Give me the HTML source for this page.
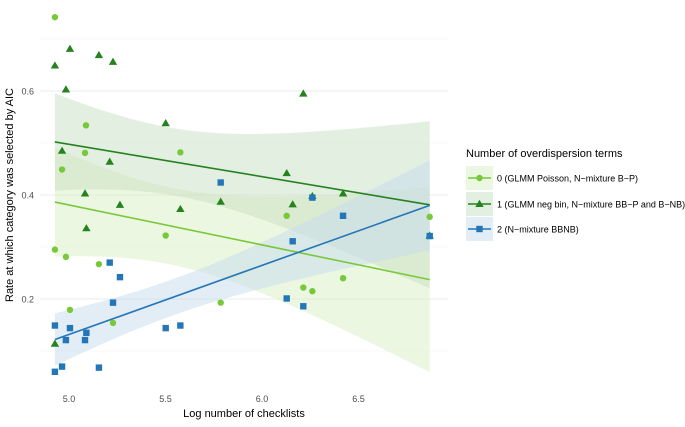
<!DOCTYPE html>
<html><head><meta charset="utf-8"><style>
body{margin:0;background:#fff;font-family:"Liberation Sans",sans-serif}
svg text{font-family:"Liberation Sans",sans-serif}
</style></head><body>
<svg id="c" width="685" height="422" viewBox="0 0 685 422" xmlns="http://www.w3.org/2000/svg"></svg>
<script>
const xTicks=[5.0,5.5,6.0,6.5];
const yTicks=[0.2,0.4,0.6];
const yMinor=[0.1,0.3,0.5,0.7];
const seriesNames=["0 (GLMM Poisson, N\u2212mixture B\u2212P)","1 (GLMM neg bin, N\u2212mixture BB\u2212P and B\u2212NB)","2 (N\u2212mixture BBNB)"];
const s0x=[4.927,5.088,5.083,5.577,4.964,5.501,4.927,4.984,5.155,5.005,5.228,5.786,6.128,6.214,6.261,6.420,6.869];
const s0y=[0.742,0.534,0.481,0.482,0.449,0.322,0.295,0.281,0.267,0.179,0.154,0.193,0.360,0.222,0.215,0.240,0.358];
const s1x=[5.005,4.927,5.155,5.228,4.984,5.501,4.964,5.211,5.083,5.264,5.577,5.786,5.090,4.927,6.214,6.128,6.159,6.420,6.261,6.869];
const s1y=[0.681,0.649,0.669,0.656,0.603,0.538,0.485,0.464,0.403,0.381,0.373,0.387,0.336,0.114,0.595,0.442,0.382,0.403,0.398,0.322];
const s2x=[5.786,5.211,5.264,5.228,4.927,5.005,5.090,4.984,5.083,5.501,5.577,4.927,4.964,5.155,6.261,6.420,6.159,6.128,6.214,6.869];
const s2y=[0.424,0.270,0.242,0.193,0.149,0.144,0.135,0.121,0.121,0.144,0.149,0.060,0.070,0.068,0.395,0.360,0.311,0.201,0.186,0.321];
const colors=["#77c93a","#24821f","#2376b7"];
const fills=["#d9efc4","#c7dfc3","#c5dbee"];
const X=v=>69+(v-5)*193;
const Y=v=>299-(v-0.2)*520;
const svg=document.getElementById('c');
const NS="http://www.w3.org/2000/svg";
function mk(t,a,p){const e=document.createElementNS(NS,t);for(const k in a)e.setAttribute(k,a[k]);(p||svg).appendChild(e);return e;}
const PL=40,PR=448;
yMinor.forEach(v=>{const l=mk('line',{x1:PL,x2:PR,y1:Y(v),y2:Y(v),stroke:'#f3f3f3','stroke-width':0.6});
});
yTicks.forEach(v=>{const l=mk('line',{x1:PL,x2:PR,y1:Y(v),y2:Y(v),stroke:'#ebebeb','stroke-width':1.1});

const t=mk('text',{x:34,y:Y(v)+3.5,'text-anchor':'end','font-size':9,fill:'#4d4d4d'});t.textContent=v.toFixed(1);
});
xTicks.forEach(v=>{const t=mk('text',{x:X(v),y:402,'text-anchor':'middle','font-size':9,fill:'#4d4d4d'});t.textContent=v.toFixed(1);
});
const xs=[s0x,s1x,s2x],ys=[s0y,s1y,s2y];
function fit(x,y){const n=x.length;const mx=x.reduce((a,b)=>a+b)/n,my=y.reduce((a,b)=>a+b)/n;
let sxx=0,sxy=0;for(let i=0;i<n;i++){sxx+=(x[i]-mx)**2;sxy+=(x[i]-mx)*(y[i]-my);}
const b=sxy/sxx,a=my-b*mx;let sse=0;for(let i=0;i<n;i++)sse+=(y[i]-a-b*x[i])**2;
const s=Math.sqrt(sse/(n-2));return {a,b,mx,sxx,n,s};}
const lo=Math.min(...s0x,...s1x,...s2x),hi=Math.max(...s0x,...s1x,...s2x);
const fits=[0,1,2].map(i=>fit(xs[i],ys[i]));
[0,1,2].forEach(i=>{const f=fits[i];let up=[],dn=[];
for(let k=0;k<=40;k++){const x=lo+(hi-lo)*k/40;const yh=f.a+f.b*x;const se=f.s*Math.sqrt(1/f.n+(x-f.mx)**2/f.sxx);
up.push(X(x)+','+Y(yh+2.0*se));dn.unshift(X(x)+','+Y(yh-2.0*se));}
const p=mk('polygon',{points:up.concat(dn).join(' '),fill:fills[i],'fill-opacity':0.5});
});
[0,1,2].forEach(i=>{const f=fits[i];const l=mk('line',{x1:X(lo),y1:Y(f.a+f.b*lo),x2:X(hi),y2:Y(f.a+f.b*hi),stroke:colors[i],'stroke-width':1.6});
});
function marker(i,cx,cy,g){let e;
if(i===0)e=mk('circle',{cx,cy,r:3.2,fill:colors[0]},g);
else if(i===1)e=mk('polygon',{points:`${cx},${cy-4.2} ${cx+4.2},${cy+3} ${cx-4.2},${cy+3}`,fill:colors[1]},g);
else e=mk('rect',{x:cx-3.2,y:cy-3.2,width:6.4,height:6.4,fill:colors[2]},g);return e;}
[0,1,2].forEach(i=>{xs[i].forEach((v,k)=>{const e=marker(i,X(v),Y(ys[i][k]));
});});
let t=mk('text',{x:244,y:417,'text-anchor':'middle','font-size':11,fill:'#000'});t.textContent='Log number of checklists';

t=mk('text',{x:13,y:195,'text-anchor':'middle','font-size':11,fill:'#000',transform:'rotate(-90 13 195)'});t.textContent='Rate at which category was selected by AIC';

t=mk('text',{x:466,y:157,'font-size':11,fill:'#000'});t.textContent='Number of overdispersion terms';

const rows=[178,204,229];
[0,1,2].forEach(i=>{const g=mk('g',{});
mk('rect',{x:466,y:rows[i]-12,width:27,height:24,fill:fills[i],'fill-opacity':0.5},g);
mk('line',{x1:468,x2:491,y1:rows[i],y2:rows[i],stroke:colors[i],'stroke-width':1.6},g);
marker(i,479.5,rows[i],g);
const tt=mk('text',{x:497,y:rows[i]+3.5,'font-size':9,fill:'#000'},g);tt.textContent=seriesNames[i];});
</script>
</body></html>
